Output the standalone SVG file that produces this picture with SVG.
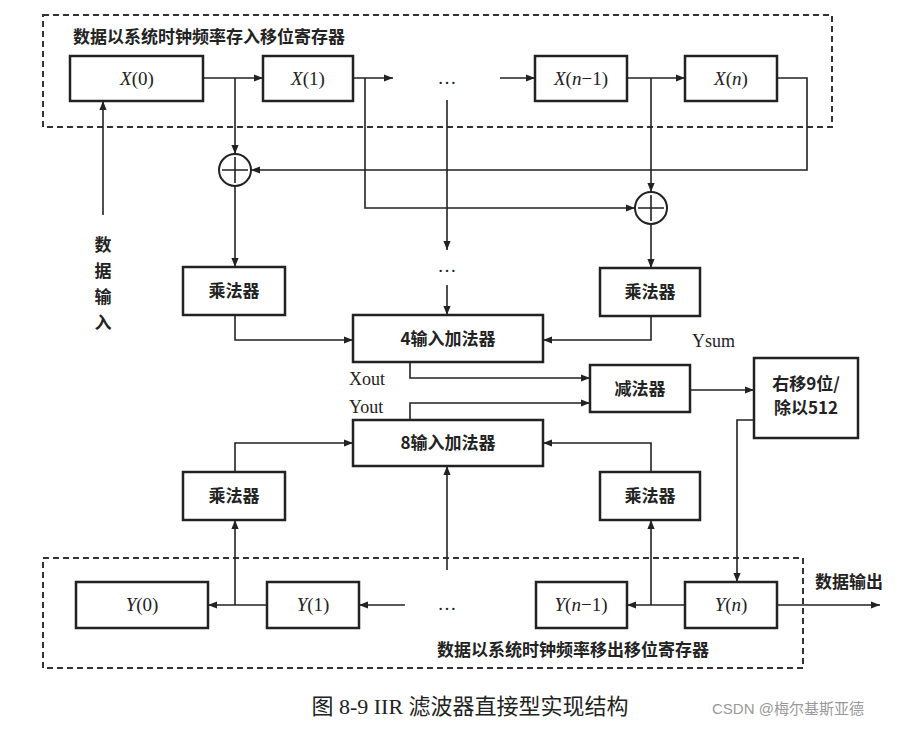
<svg xmlns="http://www.w3.org/2000/svg" width="918" height="729" viewBox="0 0 918 729">
<defs>
<marker id="a" viewBox="0 0 10 10" refX="10" refY="5" markerWidth="9" markerHeight="9" markerUnits="userSpaceOnUse" orient="auto"><path d="M0,1 L10,5 L0,9 Z" fill="#222"/></marker>
</defs>
<style>
.b{fill:#fff;stroke:#222;stroke-width:2.5}
.d{fill:none;stroke:#333;stroke-width:2;stroke-dasharray:6,4}
.l{fill:none;stroke:#222;stroke-width:1.6}
.t{font-family:"Liberation Serif","Noto Sans CJK SC",serif;font-size:19px;fill:#222;text-anchor:middle}
.i{font-style:italic}
.c{font-family:"Noto Sans CJK SC",sans-serif;font-weight:bold;font-size:17px;fill:#222;text-anchor:middle}
.cl{font-family:"Noto Sans CJK SC",sans-serif;font-weight:bold;font-size:17px;fill:#222}
.s{font-family:"Liberation Serif",serif;font-size:18px;fill:#222}
</style>
<rect width="918" height="729" fill="#fff"/>
<rect class="d" x="43" y="15" width="789" height="112"/>
<rect class="d" x="43" y="558" width="760" height="110"/>
<text class="cl" x="73" y="43">数据以系统时钟频率存入移位寄存器</text>
<text class="cl" x="437" y="656">数据以系统时钟频率移出移位寄存器</text>
<g id="connectors">
<path class="l" marker-end="url(#a)" d="M203,78 H263"/>
<path class="l" marker-end="url(#a)" d="M353,78 H393"/>
<path class="l" marker-end="url(#a)" d="M500,78 H535"/>
<path class="l" marker-end="url(#a)" d="M627,78 H685"/>
<path class="l" marker-end="url(#a)" d="M777,78 H807 V170 H251"/>
<path class="l" marker-end="url(#a)" d="M235,78 V154"/>
<path class="l" marker-end="url(#a)" d="M235,186 V267"/>
<path class="l" marker-end="url(#a)" d="M365,78 V208 H635"/>
<path class="l" marker-end="url(#a)" d="M651,78 V192"/>
<path class="l" marker-end="url(#a)" d="M651,224 V268"/>
<path class="l" marker-end="url(#a)" d="M447,100 V250"/>
<path class="l" marker-end="url(#a)" d="M447,285 V315"/>
<path class="l" marker-end="url(#a)" d="M235,315 V340 H353"/>
<path class="l" marker-end="url(#a)" d="M651,316 V340 H543"/>
<path class="l" marker-end="url(#a)" d="M410,362 V378 H590"/>
<path class="l" marker-end="url(#a)" d="M410,420 V403 H590"/>
<path class="l" marker-end="url(#a)" d="M690,390 H754"/>
<path class="l" marker-end="url(#a)" d="M754,420 H737 V582"/>
<path class="l" marker-end="url(#a)" d="M235,472 V443 H353"/>
<path class="l" marker-end="url(#a)" d="M651,472 V443 H543"/>
<path class="l" marker-end="url(#a)" d="M447,570 V466"/>
<path class="l" marker-end="url(#a)" d="M267,605 H208"/>
<path class="l" marker-end="url(#a)" d="M235,605 V520"/>
<path class="l" marker-end="url(#a)" d="M405,605 H359"/>
<path class="l" marker-end="url(#a)" d="M685,605 H627"/>
<path class="l" marker-end="url(#a)" d="M651,605 V520"/>
<path class="l" marker-end="url(#a)" d="M777,605 H880"/>
<path class="l" marker-end="url(#a)" d="M103,215 V101"/>
</g>
<g id="x0"><rect class="b" x="70" y="56" width="133" height="45"/><text class="t" x="137" y="85"><tspan class="i">X</tspan>(0)</text></g>
<g id="x1"><rect class="b" x="263" y="56" width="90" height="45"/><text class="t" x="308" y="85"><tspan class="i">X</tspan>(1)</text></g>
<text class="t" x="447" y="84">…</text>
<g id="xn1"><rect class="b" x="535" y="56" width="92" height="45"/><text class="t" x="581" y="85"><tspan class="i">X</tspan>(<tspan class="i">n</tspan>−1)</text></g>
<g id="xn"><rect class="b" x="685" y="56" width="92" height="45"/><text class="t" x="731" y="85"><tspan class="i">X</tspan>(<tspan class="i">n</tspan>)</text></g>
<g id="sum1"><circle cx="235" cy="170" r="16" fill="#fff" stroke="#222" stroke-width="2"/><path class="l" d="M222,170 H248 M235,157 V183"/></g>
<g id="sum2"><circle cx="651" cy="208" r="16" fill="#fff" stroke="#222" stroke-width="2"/><path class="l" d="M638,208 H664 M651,195 V221"/></g>
<text class="t" x="447" y="272">…</text>
<g id="m1"><rect class="b" x="183" y="267" width="102" height="48"/><text class="c" x="234" y="297">乘法器</text></g>
<g id="m2"><rect class="b" x="600" y="268" width="100" height="48"/><text class="c" x="650" y="298">乘法器</text></g>
<g id="add4"><rect class="b" x="353" y="315" width="190" height="47"/><text class="c" x="448" y="345">4输入加法器</text></g>
<text class="s" x="692" y="347">Ysum</text>
<text class="s" x="349" y="385">Xout</text>
<text class="s" x="349" y="413">Yout</text>
<g id="sub"><rect class="b" x="590" y="365" width="100" height="47"/><text class="c" x="640" y="395">减法器</text></g>
<g id="shift"><rect class="b" x="754" y="358" width="104" height="80"/><text class="c" x="806" y="390">右移9位/</text><text class="c" x="806" y="414">除以512</text></g>
<g id="add8"><rect class="b" x="353" y="420" width="190" height="46"/><text class="c" x="448" y="449">8输入加法器</text></g>
<g id="m3"><rect class="b" x="183" y="472" width="102" height="48"/><text class="c" x="234" y="502">乘法器</text></g>
<g id="m4"><rect class="b" x="600" y="472" width="100" height="48"/><text class="c" x="650" y="502">乘法器</text></g>
<g id="y0"><rect class="b" x="76" y="582" width="132" height="46"/><text class="t" x="142" y="611"><tspan class="i">Y</tspan>(0)</text></g>
<g id="y1"><rect class="b" x="267" y="582" width="92" height="46"/><text class="t" x="313" y="611"><tspan class="i">Y</tspan>(1)</text></g>
<text class="t" x="447" y="610">…</text>
<g id="yn1"><rect class="b" x="536" y="582" width="91" height="46"/><text class="t" x="581" y="611"><tspan class="i">Y</tspan>(<tspan class="i">n</tspan>−1)</text></g>
<g id="yn"><rect class="b" x="685" y="582" width="92" height="46"/><text class="t" x="731" y="611"><tspan class="i">Y</tspan>(<tspan class="i">n</tspan>)</text></g>
<text class="cl" x="815" y="588">数据输出</text>
<g class="c"><text x="103" y="251">数</text><text x="103" y="277">据</text><text x="103" y="303">输</text><text x="103" y="329">入</text></g>
<text x="470" y="714" style="font-family:'Liberation Serif','Noto Sans CJK SC',serif;font-size:22px;fill:#222;text-anchor:middle">图 8-9   IIR 滤波器直接型实现结构</text>
<text x="712" y="714" style="font-family:'Liberation Sans','Noto Sans CJK SC',sans-serif;font-size:15px;fill:#999">CSDN @梅尔基斯亚德</text>
</svg>
